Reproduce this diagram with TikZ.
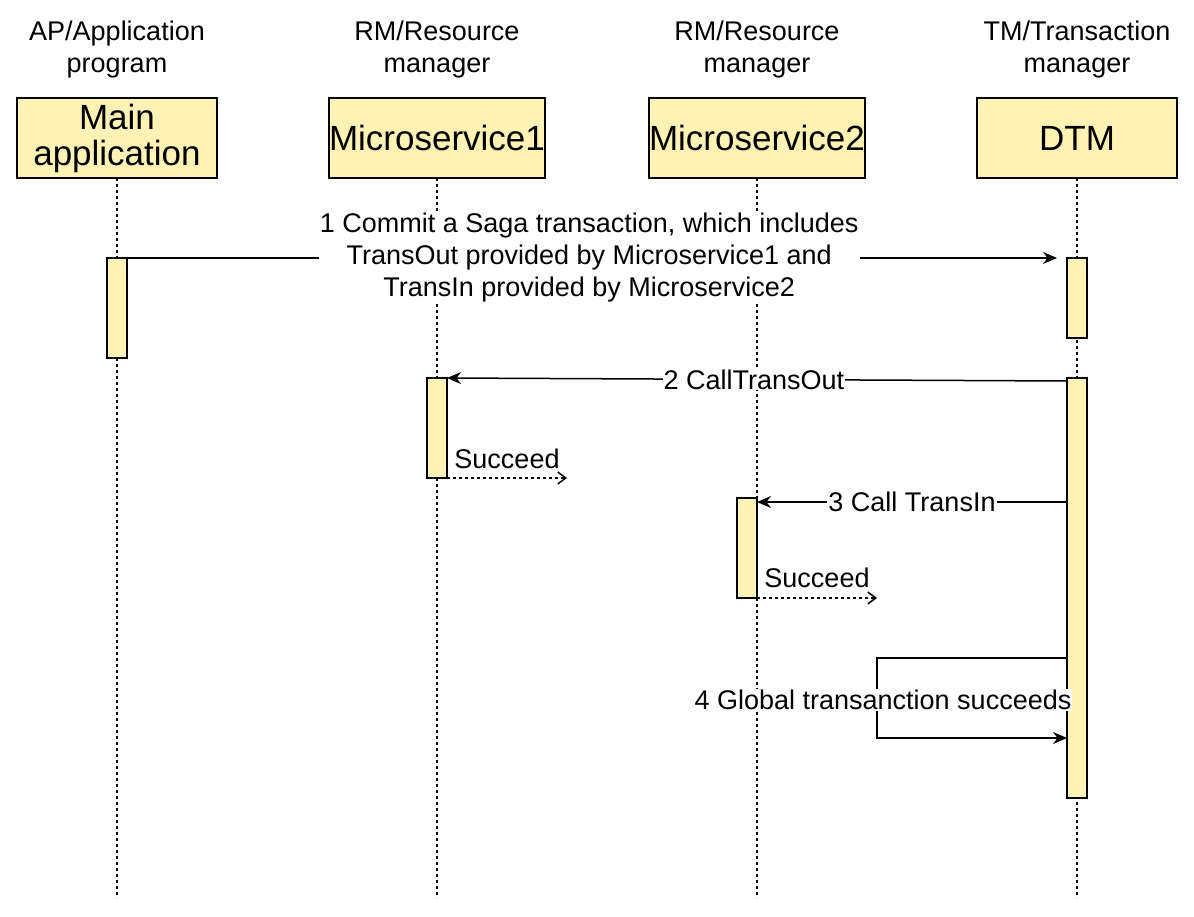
\documentclass[tikz,border=0pt]{standalone}
\usepackage{fontspec}
\setmainfont{Liberation Sans}
\usetikzlibrary{arrows.meta}
\definecolor{note}{RGB}{255,242,180}
\begin{document}
\begin{tikzpicture}[x=1pt,y=-1pt,
 hdr/.style={align=center,font=\fontsize{27}{32}\selectfont},
 box/.style={draw,fill=note,minimum width=200pt,minimum height=80pt,font=\fontsize{35}{36}\selectfont,align=center,line width=1.5pt,inner sep=0pt},
 act/.style={draw,fill=note,line width=1.5pt},
 life/.style={dashed,line width=1.5pt},
 msg/.style={line width=1.5pt,-{Stealth[length=14pt,width=12pt]}},
 ret/.style={line width=1.5pt,dashed,-{Straight Barb[length=8pt,width=12pt]}},
 lbl/.style={font=\fontsize{27}{32}\selectfont,fill=white,inner sep=1pt,align=center}]
\useasboundingbox (0,0) rectangle (1194,917);
\node[hdr] (h1) at (117,50) {AP/Application\\program};
\node[hdr] (h2) at (437,50) {RM/Resource\\manager};
\node[hdr] (h3) at (757,50) {RM/Resource\\manager};
\node[hdr] (h4) at (1077,50) {TM/Transaction\\manager};
\foreach \x/\n in {117/a,437/b,757/c,1077/d}{
 \coordinate (t\n) at (\x,178); \coordinate (e\n) at (\x,898);
 \draw[life] (t\n) -- (e\n);}
\node[box] (A) at (117,138) {Main\\application};
\node[box] (B) at (437,138) {Microservice1};
\node[box] (C) at (757,138) {Microservice2};
\node[box] (D) at (1077,138) {DTM};
\draw[act] (107,258) rectangle (127,358);
\draw[act] (1067,258) rectangle (1087,338);
\draw[act] (1067,378) rectangle (1087,798);
\draw[act] (427,378) rectangle (447,478);
\draw[act] (737,498) rectangle (757,598);
\coordinate (m1s) at (127,258); \coordinate (m1e) at (1057,258);
\draw[msg] (m1s) -- node[lbl,pos=0.497] {1 Commit a Saga transaction, which includes\\TransOut provided by Microservice1 and\\TransIn provided by Microservice2} (m1e);
\coordinate (m2s) at (1067,381); \coordinate (m2e) at (447,378);
\draw[msg] (m2s) -- node[lbl,pos=0.505] {2 CallTransOut} (m2e);
\coordinate (r1s) at (447,478); \coordinate (r1e) at (567,478);
\draw[ret] (r1s) -- (r1e);
\node[font=\fontsize{27}{32}\selectfont] (s1) at (507,459) {Succeed};
\coordinate (m3s) at (1067,502); \coordinate (m3e) at (757,502);
\draw[msg] (m3s) -- node[lbl,pos=0.5] {3 Call TransIn} (m3e);
\coordinate (r2s) at (757,598); \coordinate (r2e) at (877,598);
\draw[ret] (r2s) -- (r2e);
\node[font=\fontsize{27}{32}\selectfont] (s2) at (817,578) {Succeed};
\coordinate (l1) at (1067,658); \coordinate (l2) at (877,658);
\coordinate (l3) at (877,738); \coordinate (l4) at (1067,738);
\draw[msg] (l1) -- (l2) -- (l3) -- (l4);
\node[lbl] (g) at (883,700) {4 Global transanction succeeds};
\end{tikzpicture}
\end{document}
